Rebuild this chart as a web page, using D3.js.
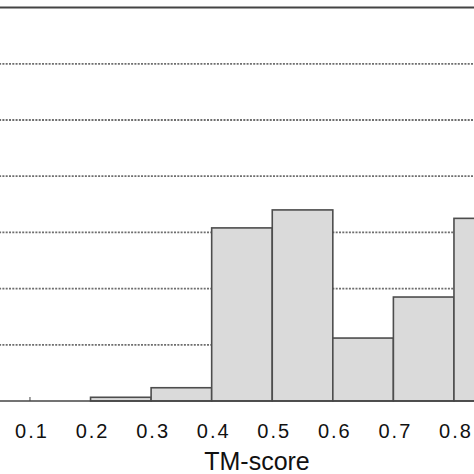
<!DOCTYPE html>
<html>
<head>
<meta charset="utf-8">
<script src="https://cdn.jsdelivr.net/npm/d3@7"></script>
<style>
  html, body { margin: 0; padding: 0; background: #fff; overflow: hidden; }
  svg { display: block; }
  .tick-label { font-family: Arial, "Liberation Sans", sans-serif; font-size: 20px; fill: #111; letter-spacing: 2px; }
  .axis-title { font-family: Arial, "Liberation Sans", sans-serif; font-size: 25px; fill: #111; }
</style>
</head>
<body>
<div id="container"></div>
<script>
// histogram bins (left edge of each bin) and their heights
var binStarts = [0.1, 0.2, 0.3, 0.4, 0.5, 0.6, 0.7, 0.8];
var binValues = [0, 0.33, 1.18, 15.4, 17.0, 5.6, 9.25, 16.25];
var binWidth = 0.1;

var tickValues = [0.1, 0.2, 0.3, 0.4, 0.5, 0.6, 0.7, 0.8];
var tickLabels = ["0.1", "0.2", "0.3", "0.4", "0.5", "0.6", "0.7", "0.8"];
var gridValues = [5, 10, 15, 20, 25, 30];

var width = 474, height = 474;

var svg = d3.select("#container")
  .append("svg")
  .attr("width", width)
  .attr("height", height);

// plot area runs off the picture on the left and right
var x = d3.scaleLinear().domain([0, 1]).range([-30.6, 575.1]);
var y = d3.scaleLinear().domain([0, 35]).range([401, 7.6]);

// dotted gridlines
svg.append("g")
  .selectAll("line")
  .data(gridValues)
  .enter().append("line")
  .attr("x1", x(0))
  .attr("x2", x(1))
  .attr("y1", function (d) { return y(d); })
  .attr("y2", function (d) { return y(d); })
  .attr("stroke", "#6e6e6e")
  .attr("stroke-width", 1.8)
  .attr("stroke-dasharray", "2,1.3");

// small inward ticks on the baseline
svg.append("g")
  .selectAll("line")
  .data(tickValues)
  .enter().append("line")
  .attr("x1", function (d) { return x(d); })
  .attr("x2", function (d) { return x(d); })
  .attr("y1", y(0))
  .attr("y2", y(0) - 4)
  .attr("stroke", "#444")
  .attr("stroke-width", 1);

// bars
svg.append("g")
  .selectAll("rect")
  .data(binStarts.map(function (s, i) { return { start: s, value: binValues[i] }; }))
  .enter().append("rect")
  .attr("x", function (d) { return x(d.start); })
  .attr("width", function (d) { return x(d.start + binWidth) - x(d.start); })
  .attr("y", function (d) { return y(d.value); })
  .attr("height", function (d) { return y(0) - y(d.value); })
  .attr("fill", "#dadada")
  .attr("stroke", "#4d4d4d")
  .attr("stroke-width", 1.6);

// frame top and baseline
svg.append("line")
  .attr("x1", x(0)).attr("x2", x(1))
  .attr("y1", y(35)).attr("y2", y(35))
  .attr("stroke", "#444").attr("stroke-width", 2);

svg.append("line")
  .attr("x1", x(0)).attr("x2", x(1))
  .attr("y1", y(0)).attr("y2", y(0))
  .attr("stroke", "#444").attr("stroke-width", 1.6);

// tick labels
svg.append("g")
  .selectAll("text")
  .data(tickValues)
  .enter().append("text")
  .attr("class", "tick-label")
  .attr("x", function (d) { return x(d) + 2; })
  .attr("y", 438)
  .attr("text-anchor", "middle")
  .text(function (d, i) { return tickLabels[i]; });

svg.append("text")
  .attr("class", "axis-title")
  .attr("x", 257)
  .attr("y", 470)
  .attr("text-anchor", "middle")
  .text("TM-score");
</script>
</body>
</html>
